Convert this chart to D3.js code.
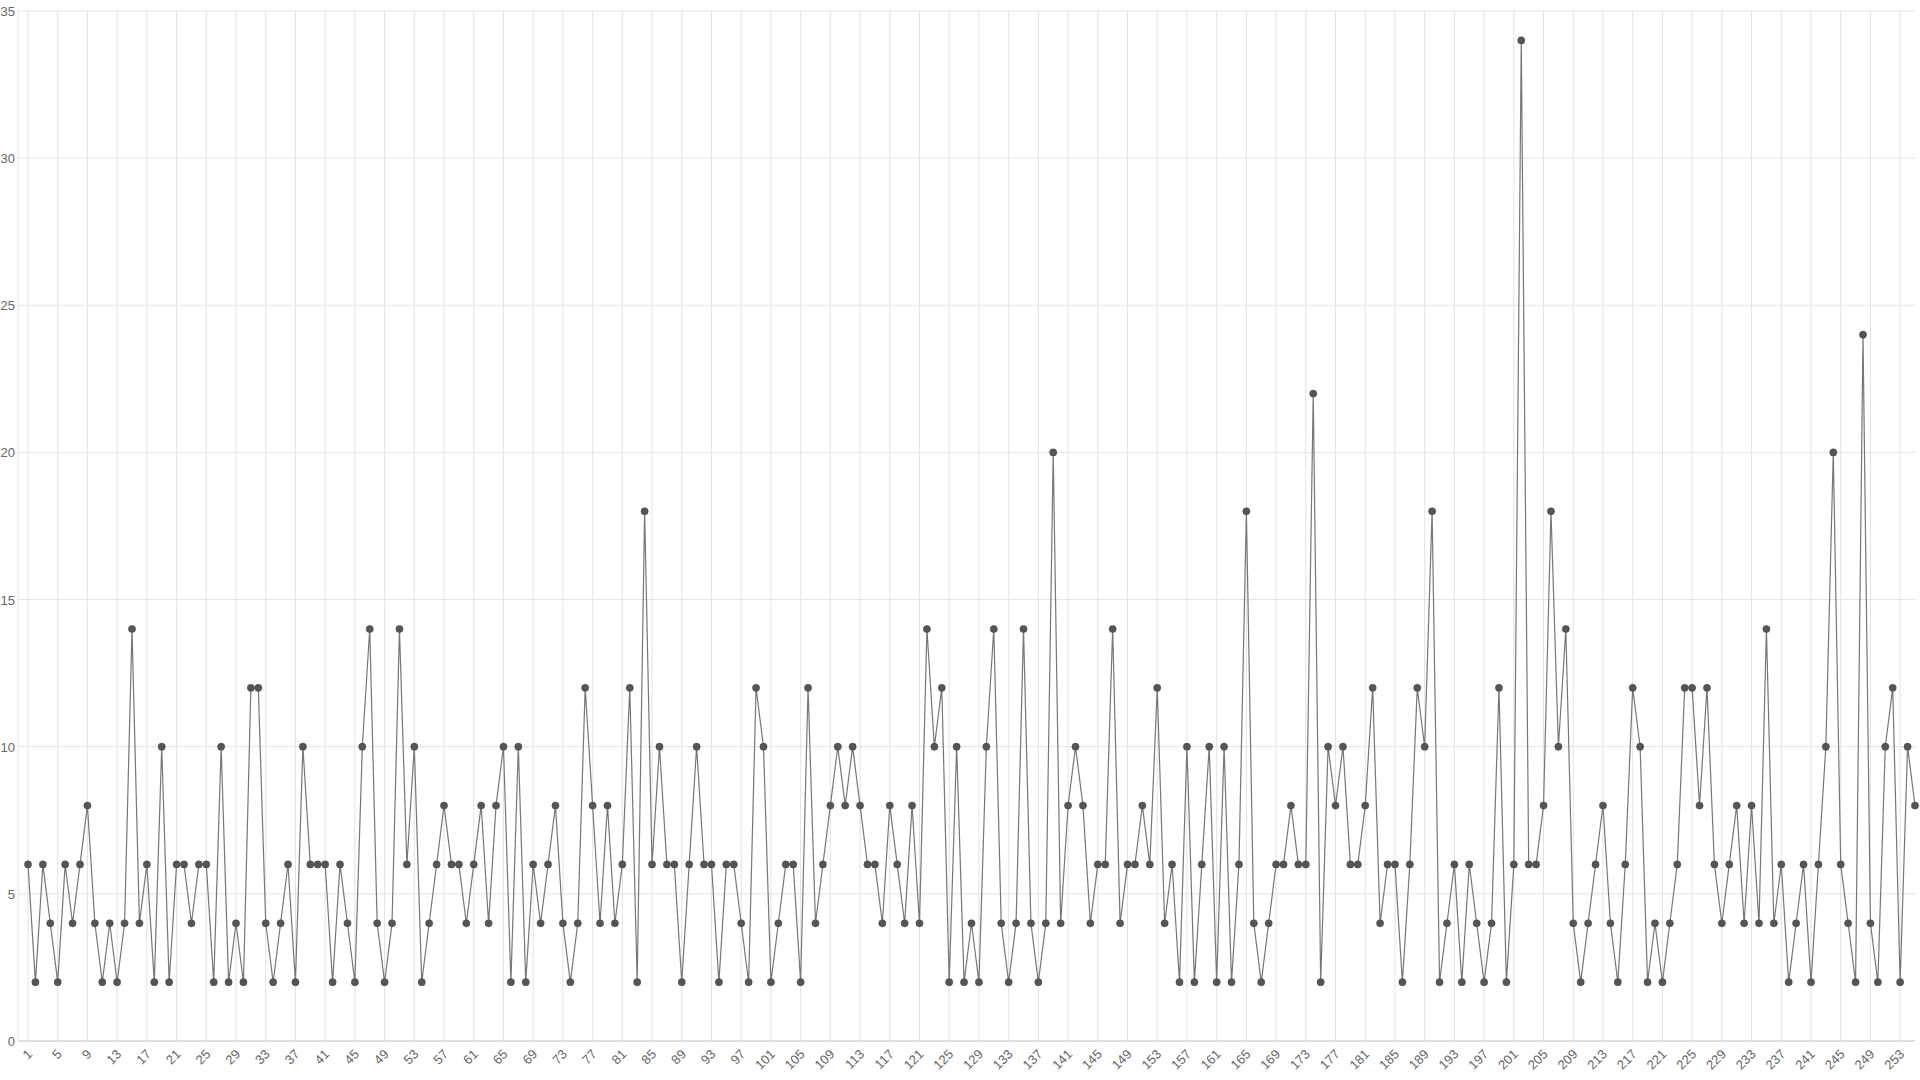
<!DOCTYPE html><html><head><meta charset="utf-8"><script src="https://cdn.jsdelivr.net/npm/d3@7"></script>
<style>body{margin:0;background:#fff}text{font-family:"Helvetica","Liberation Sans",Arial,sans-serif}</style></head><body><svg id="c" width="1920" height="1080"></svg><script>
const values=[6,2,6,4,2,6,4,6,8,4,2,4,2,4,14,4,6,2,10,2,6,6,4,6,6,2,10,2,4,2,12,12,4,2,4,6,2,10,6,6,6,2,6,4,2,10,14,4,2,4,14,6,10,2,4,6,8,6,6,4,6,8,4,8,10,2,10,2,6,4,6,8,4,2,4,12,8,4,8,4,6,12,2,18,6,10,6,6,2,6,10,6,6,2,6,6,4,2,12,10,2,4,6,6,2,12,4,6,8,10,8,10,8,6,6,4,8,6,4,8,4,14,10,12,2,10,2,4,2,10,14,4,2,4,14,4,2,4,20,4,8,10,8,4,6,6,14,4,6,6,8,6,12,4,6,2,10,2,6,10,2,10,2,6,18,4,2,4,6,6,8,6,6,22,2,10,8,10,6,6,8,12,4,6,6,2,6,12,10,18,2,4,6,2,6,4,2,4,12,2,6,34,6,6,8,18,10,14,4,2,4,6,8,4,2,6,12,10,2,4,2,4,6,12,12,8,12,6,4,6,8,4,8,4,14,4,6,2,4,6,2,6,10,20,6,4,2,24,4,2,10,12,2,10,8];
const categories=values.map((d,i)=>i+1);
const xTicks=categories.filter(c=>(c-1)%4===0);
const yTicks=[0,5,10,15,20,25,30,35];
const svg=d3.select("#c");
const x=d3.scaleLinear().domain([1,255]).range([28,1915]);
const y=d3.scaleLinear().domain([0,35]).range([1041,11]);
const L=18,R=1915;
const g=svg.append("g");
g.selectAll(".hy").data(yTicks).join("line").attr("x1",L).attr("x2",R).attr("y1",d=>y(d)).attr("y2",d=>y(d)).attr("stroke","#e3e3e3");
g.selectAll(".vx").data(xTicks).join("line").attr("x1",d=>x(d)).attr("x2",d=>x(d)).attr("y1",11).attr("y2",1041).attr("stroke","#e3e3e3");
svg.append("line").attr("x1",L).attr("x2",R).attr("y1",1041).attr("y2",1041).attr("stroke","#ccc");
svg.append("line").attr("x1",L).attr("x2",L).attr("y1",11).attr("y2",1041).attr("stroke","#e3e3e3");
svg.selectAll(".yl").data(yTicks).join("text").attr("x",15).attr("y",d=>y(d)+5).attr("text-anchor","end").attr("font-size",13).attr("fill","#666").text(d=>d);
svg.selectAll(".xl").data(xTicks).join("text").attr("transform",d=>`translate(${x(d)+5},${1055}) rotate(-45)`).attr("text-anchor","end").attr("font-size",13).attr("fill","#666").text(d=>d);
svg.append("path").datum(values).attr("fill","none").attr("stroke","#777").attr("stroke-width",1.2).attr("d",d3.line().x((d,i)=>x(categories[i])).y(d=>y(d)));
svg.selectAll(".pt").data(values).join("circle").attr("cx",(d,i)=>x(categories[i])).attr("cy",d=>y(d)).attr("r",3.6).attr("fill","#555").attr("stroke","#444").attr("stroke-width",0.5);
</script></body></html>
